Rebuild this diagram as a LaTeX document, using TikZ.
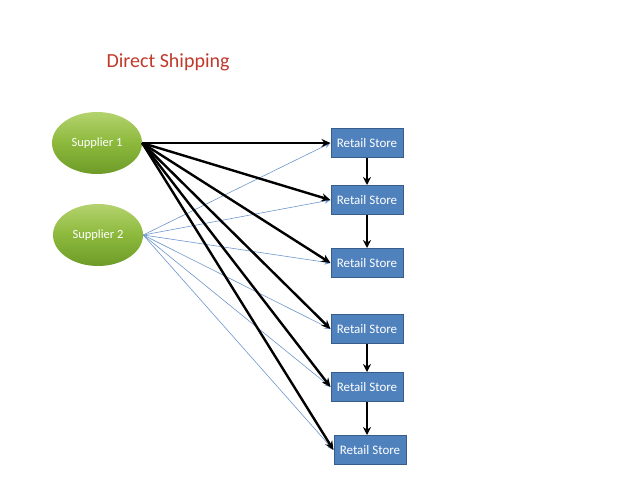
\documentclass[tikz,border=0pt]{standalone}
\usetikzlibrary{shapes.geometric,arrows.meta}
\usepackage{fontspec}
\setmainfont{Carlito}
\definecolor{gtop}{RGB}{180,210,110}
\definecolor{gmid}{RGB}{140,185,60}
\definecolor{gbot}{RGB}{110,155,40}
\definecolor{sfill}{RGB}{79,129,189}
\definecolor{sdraw}{RGB}{56,93,138}
\definecolor{thinc}{RGB}{110,150,205}
\definecolor{titlec}{RGB}{192,57,43}
\begin{document}
\begin{tikzpicture}[x=1pt,y=-1pt,
 sup/.style={ellipse,minimum width=90pt,minimum height=62pt,inner sep=0pt,draw=none,top color=gtop,bottom color=gbot,middle color=gmid,text=white,font=\fontsize{12.5}{14}\selectfont},
 store/.style={rectangle,fill=sfill,draw=sdraw,line width=1pt,minimum width=72pt,minimum height=29pt,inner sep=0pt,text=white,font=\fontsize{13}{14}\selectfont},
 thick1/.style={-{Stealth[length=9pt,width=8pt]},line width=2.4pt,black},
 thin1/.style={-{Stealth[length=6pt,width=5pt]},line width=0.6pt,thinc},
 down/.style={-{Stealth[length=8pt,width=8pt]},line width=2pt,black}]
\useasboundingbox (0,0) rectangle (638,479);
\node[anchor=west,text=titlec,font=\fontsize{20}{22}\selectfont] (t) at (103,62) {Direct Shipping};
\node[sup] (s1) at (97,143) {Supplier 1};
\node[sup] (s2) at (98,235) {Supplier 2};
\node[store] (r1) at (367,143) {Retail Store};
\node[store] (r2) at (367,200) {Retail Store};
\node[store] (r3) at (367,263) {Retail Store};
\node[store] (r4) at (367,329) {Retail Store};
\node[store] (r5) at (367,387) {Retail Store};
\node[store] (r6) at (370,450) {Retail Store};
\foreach \r in {r1,r2,r3,r4,r5,r6}{
 \draw[thin1] (s2.east) -- (\r.west);
}
\foreach \r in {r1,r2,r3,r4,r5,r6}{
 \draw[thick1] (s1.east) -- (\r.west);
}
\draw[down] (r1) -- (r2);
\draw[down] (r2) -- (r3);
\draw[down] (r4) -- (r5);
\draw[down] (r5.south) -- (r6.north -| r5.south);
\end{tikzpicture}
\end{document}
